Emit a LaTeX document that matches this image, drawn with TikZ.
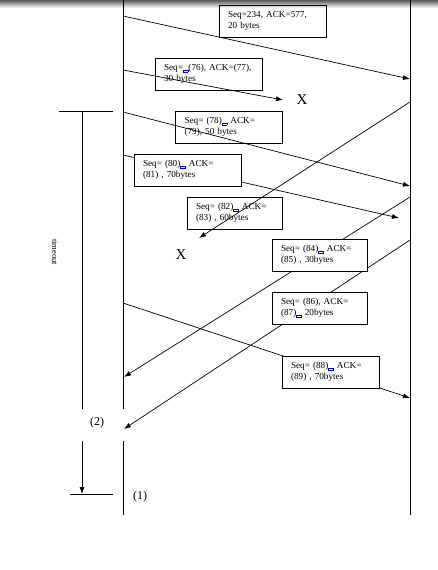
\documentclass[tikz,border=0pt]{standalone}
\usepackage{fontspec}
\setmainfont{Liberation Serif}
\usetikzlibrary{positioning, arrows.meta}

\newcommand{\cbox}{\raisebox{-1.2pt}{\textcolor{blue!80!black}{\fboxsep=0pt\fboxrule=0.5pt\fbox{\rule{4.5pt}{0pt}\rule{0pt}{1.6pt}}}}}

\begin{document}
\begin{tikzpicture}[
    x=1pt, y=-1pt, line width=0.7pt,
    msgbox/.style={draw, fill=#1, minimum height=32pt, inner sep=0pt, align=left,
                   font=\fontsize{9.2}{11.5}\selectfont},
    msgbox/.default=white,
    msg/.style={-{Latex[length=7pt,width=5pt]}},
    lost/.style={font=\fontsize{15}{15}\selectfont},
    node distance=6pt]

\useasboundingbox (0,0) rectangle (438,570);
\shade[top color=black!65, bottom color=white] (0,0) rectangle (438,8);

% lifelines
\coordinate (l0) at (123,0);
\coordinate (l1) at (123,409);
\coordinate (l2) at (123,441);
\coordinate (l3) at (123,515);
\coordinate (r0) at (410,0);
\coordinate (r1) at (410,515);
\draw (l0) -- (l1);
\draw (l2) -- (l3);
\draw (r0) -- (r1);

% timeout
\coordinate (t0) at (59,111);
\coordinate (t1) at (113,111);
\coordinate (t2) at (82,111);
\coordinate (t3) at (82,409);
\coordinate (t4) at (82,441);
\coordinate (t5) at (82,494);
\coordinate (t6) at (70,494);
\coordinate (t7) at (113,494);
\draw (t0) -- (t1);
\draw (t2) -- (t3);
\draw[-{Latex[length=7pt,width=5pt]}] (t4) -- (t5);
\draw (t6) -- (t7);
\node[rotate=-90, font=\fontsize{8.5}{8.5}\selectfont] (tout) at (55,252) {timeout};
\node[font=\fontsize{12}{12}\selectfont] (two) at (97,423) {(2)};
\node[font=\fontsize{12}{12}\selectfont] (one) at (140,497) {(1)};

% boxes that the arrows run across
\node[msgbox=none, minimum width=107pt, text width=89pt] (m1) at (272.5,21) {Seq=234, ACK=577,\\20 bytes};
\node[msgbox=none, minimum width=107pt, text width=89pt] (m2) at (208.5,74) {Seq=\cbox(76), ACK=(77),\\30 bytes};
\node[msgbox=none, minimum width=107pt, text width=89pt] (m3) at (229,127) {Seq= (78)\cbox\ ACK=\\(79), 50 bytes};
\node[msgbox=none, minimum width=95pt, text width=77pt] (m5) at (234.5,213) {Seq= (82)\cbox\ ACK=\\(83) , 60bytes};

% segments
\coordinate (a1) at (123,16);   \coordinate (b1) at (410,79);
\coordinate (a2) at (123,70);   \coordinate (b2) at (283,100);
\coordinate (a3) at (123,112);  \coordinate (b3) at (410,186);
\coordinate (a4) at (123,155);  \coordinate (b4) at (399,218);
\coordinate (a8) at (123,303);  \coordinate (b8) at (410,398);
% acks
\coordinate (c5) at (410,102);  \coordinate (d5) at (199,238);
\coordinate (c6) at (410,197);  \coordinate (d6) at (124,377);
\coordinate (c7) at (410,240);  \coordinate (d7) at (124,429);

\draw[msg] (a1) -- (b1);
\draw[msg] (a2) -- (b2);
\draw[msg] (a3) -- (b3);
\draw[msg] (a4) -- (b4);
\draw[msg] (a8) -- (b8);
\draw[msg] (c5) -- (d5);
\draw[msg] (c6) -- (d6);
\draw[msg] (c7) -- (d7);

\node[lost, right=10pt of b2] (x1) {X};
\node[lost] (x2) at (181,255) {X};

% boxes on top
\node[msgbox, minimum width=107pt, text width=89pt] (m4) at (187.5,170) {Seq= (80)\cbox\ ACK=\\(81) , 70bytes};
\node[msgbox, minimum width=95pt, text width=77pt] (m6) at (319.5,255) {Seq= (84)\cbox\ ACK=\\(85) , 30bytes};
\node[msgbox, minimum width=95pt, text width=77pt] (m7) at (319.5,308) {Seq= (86), ACK=\\(87)\cbox\ 20bytes};
\node[msgbox, minimum width=97pt, text width=79pt] (m8) at (330.5,372) {Seq= (88)\cbox\ ACK=\\(89) , 70bytes};
\end{tikzpicture}
\end{document}
